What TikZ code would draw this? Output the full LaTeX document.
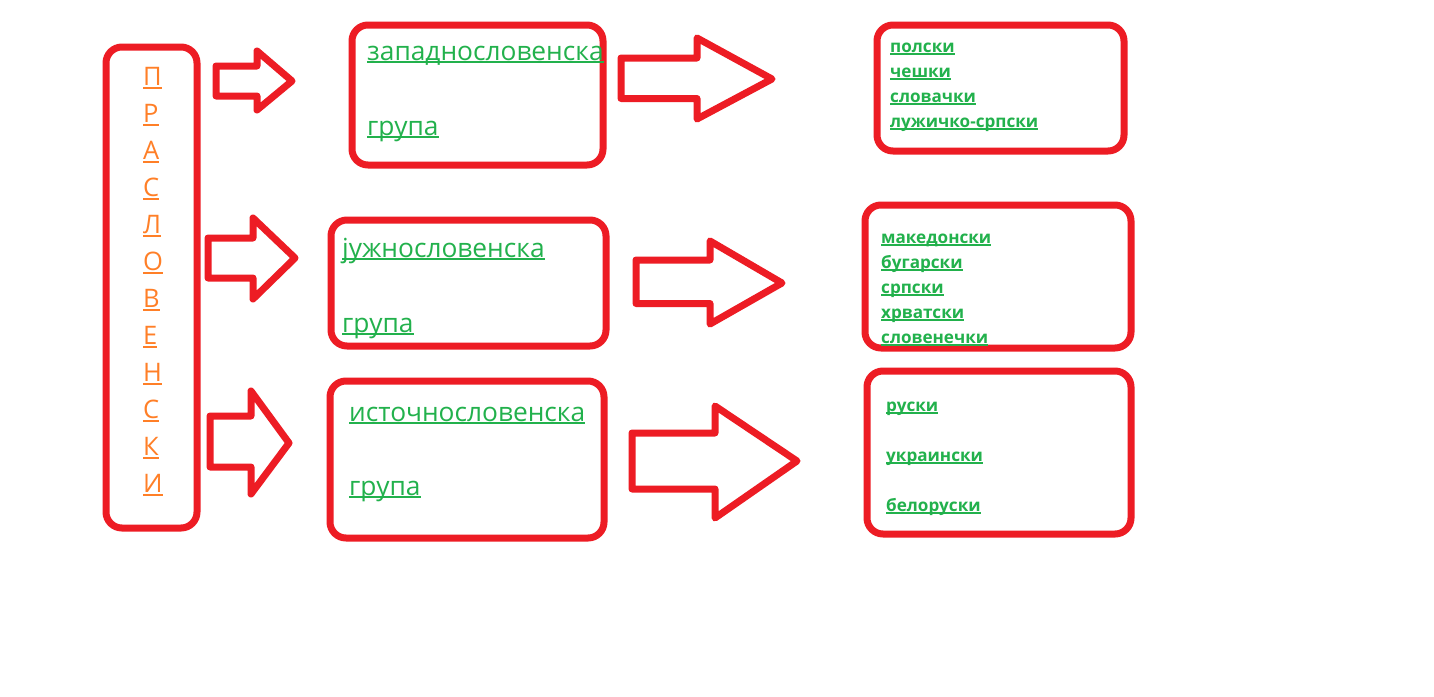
\documentclass[tikz,border=0pt]{standalone}
\usepackage{fontspec}
\setmainfont{Open Sans}
\definecolor{pred}{HTML}{ED1C24}
\definecolor{pgreen}{HTML}{22B14C}
\definecolor{porange}{HTML}{FF7F27}
% underline: #1 = depth of rule bottom, #2 = thickness, #3 = text
\newcommand{\myul}[3]{\setbox0=\hbox{#3}\rlap{\rule[-#1]{\wd0}{#2}}\box0}
\tikzset{
  box/.style={draw=pred, line width=7pt, rounded corners=16pt, rectangle, inner sep=0pt},
  blockarrow/.style={draw=pred, line width=7pt, line join=round},
  orangetxt/.style={anchor=base west, inner sep=0pt, text=porange, font=\fontsize{25.5}{30}\selectfont},
  bigtxt/.style={anchor=base west, inner sep=0pt, text=pgreen, font=\fontsize{26.3}{30}\selectfont},
  smalltxt/.style={anchor=base west, inner sep=0pt, text=pgreen, font=\bfseries\fontsize{17.1}{22}\selectfont}
}
\newcommand{\bigul}[1]{\myul{3pt}{2.5pt}{#1}}
\newcommand{\smallul}[1]{\myul{2.8pt}{1.5pt}{#1}}
\begin{document}
\begin{tikzpicture}[x=1pt,y=-1pt]
\useasboundingbox (0,0) rectangle (1434,696);
\fill[white] (0,0) rectangle (1434,696);

% boxes
\node[box, minimum width=91pt,  minimum height=481pt] (p)  at (151.5,287.5) {};
\node[box, minimum width=251pt, minimum height=140pt] (w)  at (477.5,95) {};
\node[box, minimum width=275pt, minimum height=126pt] (s)  at (468.5,283) {};
\node[box, minimum width=274pt, minimum height=157pt] (e)  at (467,459.5) {};
\node[box, minimum width=247pt, minimum height=126pt] (r1) at (1000.5,88) {};
\node[box, minimum width=266pt, minimum height=143pt] (r2) at (998,276.5) {};
\node[box, minimum width=264pt, minimum height=163pt] (r3) at (999,452.5) {};

% block arrows
\draw[blockarrow] (216,66) -- (257,66) -- (257,51) -- (292,81) -- (257,110) -- (257,96) -- (216,96) -- cycle;
\draw[blockarrow] (208,238) -- (253,238) -- (253,218) -- (295,258) -- (253,299) -- (253,278) -- (208,278) -- cycle;
\draw[blockarrow] (210,416) -- (251,416) -- (251,391) -- (289,443) -- (251,494) -- (251,467) -- (210,467) -- cycle;
\draw[blockarrow] (621,58) -- (697,58) -- (697,38) -- (772,79) -- (697,119) -- (697,98.5) -- (621,98.5) -- cycle;
\draw[blockarrow] (636,260) -- (710,260) -- (710,241) -- (782,283) -- (710,324) -- (710,303.5) -- (636,303.5) -- cycle;
\draw[blockarrow] (632,433) -- (715,433) -- (715,406) -- (797,461) -- (715,518) -- (715,489) -- (632,489) -- cycle;

% vertical word
\foreach \l [count=\i] in {П,Р,А,С,Л,О,В,Е,Н,С,К,И}
  \node[orangetxt] (p\i) at (143,48+37*\i) {\myul{3.5pt}{1.8pt}{\l}};

% group texts
\node[bigtxt] (w1) at (367,60)  {\bigul{западнословенска}};
\node[bigtxt] (w2) at (367,135) {\bigul{група}};
\node[bigtxt] (s1) at (342,257) {\bigul{јужнословенска}};
\node[bigtxt] (s2) at (342,332) {\bigul{група}};
\node[bigtxt] (e1) at (349,421) {\bigul{источнословенска}};
\node[bigtxt] (e2) at (349,495) {\bigul{група}};

% languages
\node[smalltxt] (l11) at (890,52)  {\smallul{полски}};
\node[smalltxt] (l12) at (890,77)  {\smallul{чешки}};
\node[smalltxt] (l13) at (890,102) {\smallul{словачки}};
\node[smalltxt] (l14) at (890,127) {\smallul{лужичко-српски}};

\node[smalltxt] (l21) at (881,243) {\smallul{македонски}};
\node[smalltxt] (l22) at (881,268) {\smallul{бугарски}};
\node[smalltxt] (l23) at (881,293) {\smallul{српски}};
\node[smalltxt] (l24) at (881,318) {\smallul{хрватски}};
\node[smalltxt] (l25) at (881,343) {\smallul{словенечки}};

\node[smalltxt] (l31) at (886,411) {\smallul{руски}};
\node[smalltxt] (l32) at (886,461) {\smallul{украински}};
\node[smalltxt] (l33) at (886,511) {\smallul{белоруски}};
\end{tikzpicture}
\end{document}
